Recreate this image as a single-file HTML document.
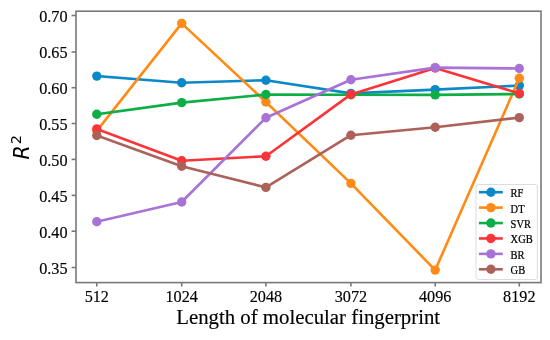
<!DOCTYPE html>
<html><head><meta charset="utf-8"><style>
html,body{margin:0;padding:0;background:#fff;}
svg{display:block;}
</style></head><body>
<svg width="550" height="340" viewBox="0 0 550 340">
<rect width="550" height="340" fill="#fff"/>
<polyline points="96.80,76.10 181.70,82.70 265.90,80.20 350.90,93.40 435.20,89.60 519.30,85.60" fill="none" stroke="#0a89c9" stroke-width="2.6" stroke-linejoin="round" stroke-linecap="square"/>
<circle cx="96.80" cy="76.10" r="4.7" fill="#0a89c9"/>
<circle cx="181.70" cy="82.70" r="4.7" fill="#0a89c9"/>
<circle cx="265.90" cy="80.20" r="4.7" fill="#0a89c9"/>
<circle cx="350.90" cy="93.40" r="4.7" fill="#0a89c9"/>
<circle cx="435.20" cy="89.60" r="4.7" fill="#0a89c9"/>
<circle cx="519.30" cy="85.60" r="4.7" fill="#0a89c9"/>
<polyline points="96.80,130.80 181.70,23.40 265.90,102.00 350.90,183.40 435.20,270.10 519.30,78.20" fill="none" stroke="#ff8a14" stroke-width="2.6" stroke-linejoin="round" stroke-linecap="square"/>
<circle cx="96.80" cy="130.80" r="4.7" fill="#ff8a14"/>
<circle cx="181.70" cy="23.40" r="4.7" fill="#ff8a14"/>
<circle cx="265.90" cy="102.00" r="4.7" fill="#ff8a14"/>
<circle cx="350.90" cy="183.40" r="4.7" fill="#ff8a14"/>
<circle cx="435.20" cy="270.10" r="4.7" fill="#ff8a14"/>
<circle cx="519.30" cy="78.20" r="4.7" fill="#ff8a14"/>
<polyline points="96.80,114.30 181.70,102.60 265.90,94.50 350.90,94.70 435.20,94.90 519.30,94.00" fill="none" stroke="#0dae45" stroke-width="2.6" stroke-linejoin="round" stroke-linecap="square"/>
<circle cx="96.80" cy="114.30" r="4.7" fill="#0dae45"/>
<circle cx="181.70" cy="102.60" r="4.7" fill="#0dae45"/>
<circle cx="265.90" cy="94.50" r="4.7" fill="#0dae45"/>
<circle cx="350.90" cy="94.70" r="4.7" fill="#0dae45"/>
<circle cx="435.20" cy="94.90" r="4.7" fill="#0dae45"/>
<circle cx="519.30" cy="94.00" r="4.7" fill="#0dae45"/>
<polyline points="96.80,128.90 181.70,160.70 265.90,156.30 350.90,94.40 435.20,68.00 519.30,93.40" fill="none" stroke="#fa3438" stroke-width="2.6" stroke-linejoin="round" stroke-linecap="square"/>
<circle cx="96.80" cy="128.90" r="4.7" fill="#fa3438"/>
<circle cx="181.70" cy="160.70" r="4.7" fill="#fa3438"/>
<circle cx="265.90" cy="156.30" r="4.7" fill="#fa3438"/>
<circle cx="350.90" cy="94.40" r="4.7" fill="#fa3438"/>
<circle cx="435.20" cy="68.00" r="4.7" fill="#fa3438"/>
<circle cx="519.30" cy="93.40" r="4.7" fill="#fa3438"/>
<polyline points="96.80,221.70 181.70,202.00 265.90,117.80 350.90,79.80 435.20,67.60 519.30,68.50" fill="none" stroke="#a872d6" stroke-width="2.6" stroke-linejoin="round" stroke-linecap="square"/>
<circle cx="96.80" cy="221.70" r="4.7" fill="#a872d6"/>
<circle cx="181.70" cy="202.00" r="4.7" fill="#a872d6"/>
<circle cx="265.90" cy="117.80" r="4.7" fill="#a872d6"/>
<circle cx="350.90" cy="79.80" r="4.7" fill="#a872d6"/>
<circle cx="435.20" cy="67.60" r="4.7" fill="#a872d6"/>
<circle cx="519.30" cy="68.50" r="4.7" fill="#a872d6"/>
<polyline points="96.80,135.50 181.70,166.30 265.90,187.40 350.90,135.20 435.20,127.20 519.30,117.60" fill="none" stroke="#ac6258" stroke-width="2.6" stroke-linejoin="round" stroke-linecap="square"/>
<circle cx="96.80" cy="135.50" r="4.7" fill="#ac6258"/>
<circle cx="181.70" cy="166.30" r="4.7" fill="#ac6258"/>
<circle cx="265.90" cy="187.40" r="4.7" fill="#ac6258"/>
<circle cx="350.90" cy="135.20" r="4.7" fill="#ac6258"/>
<circle cx="435.20" cy="127.20" r="4.7" fill="#ac6258"/>
<circle cx="519.30" cy="117.60" r="4.7" fill="#ac6258"/>
<rect x="76.0" y="11.2" width="465.0" height="271.40000000000003" fill="none" stroke="#787878" stroke-width="1.6"/>
<line x1="71.6" y1="15.50" x2="76.0" y2="15.50" stroke="#787878" stroke-width="1.6"/>
<text x="67.50" y="21.90" text-anchor="end" font-family='"Liberation Serif", "Times New Roman", serif' font-size="16.2" fill="#000" stroke="#000" stroke-width="0.15">0.70</text>
<line x1="71.6" y1="52.00" x2="76.0" y2="52.00" stroke="#787878" stroke-width="1.6"/>
<text x="67.50" y="58.40" text-anchor="end" font-family='"Liberation Serif", "Times New Roman", serif' font-size="16.2" fill="#000" stroke="#000" stroke-width="0.15">0.65</text>
<line x1="71.6" y1="87.70" x2="76.0" y2="87.70" stroke="#787878" stroke-width="1.6"/>
<text x="67.50" y="94.10" text-anchor="end" font-family='"Liberation Serif", "Times New Roman", serif' font-size="16.2" fill="#000" stroke="#000" stroke-width="0.15">0.60</text>
<line x1="71.6" y1="123.50" x2="76.0" y2="123.50" stroke="#787878" stroke-width="1.6"/>
<text x="67.50" y="129.90" text-anchor="end" font-family='"Liberation Serif", "Times New Roman", serif' font-size="16.2" fill="#000" stroke="#000" stroke-width="0.15">0.55</text>
<line x1="71.6" y1="159.40" x2="76.0" y2="159.40" stroke="#787878" stroke-width="1.6"/>
<text x="67.50" y="165.80" text-anchor="end" font-family='"Liberation Serif", "Times New Roman", serif' font-size="16.2" fill="#000" stroke="#000" stroke-width="0.15">0.50</text>
<line x1="71.6" y1="195.40" x2="76.0" y2="195.40" stroke="#787878" stroke-width="1.6"/>
<text x="67.50" y="201.80" text-anchor="end" font-family='"Liberation Serif", "Times New Roman", serif' font-size="16.2" fill="#000" stroke="#000" stroke-width="0.15">0.45</text>
<line x1="71.6" y1="231.20" x2="76.0" y2="231.20" stroke="#787878" stroke-width="1.6"/>
<text x="67.50" y="237.60" text-anchor="end" font-family='"Liberation Serif", "Times New Roman", serif' font-size="16.2" fill="#000" stroke="#000" stroke-width="0.15">0.40</text>
<line x1="71.6" y1="267.50" x2="76.0" y2="267.50" stroke="#787878" stroke-width="1.6"/>
<text x="67.50" y="273.90" text-anchor="end" font-family='"Liberation Serif", "Times New Roman", serif' font-size="16.2" fill="#000" stroke="#000" stroke-width="0.15">0.35</text>
<line x1="96.80" y1="282.6" x2="96.80" y2="286.6" stroke="#787878" stroke-width="1.6"/>
<text x="96.80" y="302" text-anchor="middle" font-family='"Liberation Serif", "Times New Roman", serif' font-size="16.2" fill="#000" stroke="#000" stroke-width="0.15">512</text>
<line x1="181.70" y1="282.6" x2="181.70" y2="286.6" stroke="#787878" stroke-width="1.6"/>
<text x="181.70" y="302" text-anchor="middle" font-family='"Liberation Serif", "Times New Roman", serif' font-size="16.2" fill="#000" stroke="#000" stroke-width="0.15">1024</text>
<line x1="265.90" y1="282.6" x2="265.90" y2="286.6" stroke="#787878" stroke-width="1.6"/>
<text x="265.90" y="302" text-anchor="middle" font-family='"Liberation Serif", "Times New Roman", serif' font-size="16.2" fill="#000" stroke="#000" stroke-width="0.15">2048</text>
<line x1="350.90" y1="282.6" x2="350.90" y2="286.6" stroke="#787878" stroke-width="1.6"/>
<text x="350.90" y="302" text-anchor="middle" font-family='"Liberation Serif", "Times New Roman", serif' font-size="16.2" fill="#000" stroke="#000" stroke-width="0.15">3072</text>
<line x1="435.20" y1="282.6" x2="435.20" y2="286.6" stroke="#787878" stroke-width="1.6"/>
<text x="435.20" y="302" text-anchor="middle" font-family='"Liberation Serif", "Times New Roman", serif' font-size="16.2" fill="#000" stroke="#000" stroke-width="0.15">4096</text>
<line x1="519.30" y1="282.6" x2="519.30" y2="286.6" stroke="#787878" stroke-width="1.6"/>
<text x="519.30" y="302" text-anchor="middle" font-family='"Liberation Serif", "Times New Roman", serif' font-size="16.2" fill="#000" stroke="#000" stroke-width="0.15">8192</text>
<text x="308.2" y="323.8" text-anchor="middle" font-family='"Liberation Serif", "Times New Roman", serif' font-size="20.8" fill="#000" stroke="#000" stroke-width="0.15">Length of molecular fingerprint</text>
<g transform="translate(28.9,159.4) rotate(-90)"><text x="0" y="0" font-family='"DejaVu Sans", sans-serif' font-style="italic" font-size="20.6" fill="#000">R<tspan font-style="normal" font-size="14.5" dy="-7.9" dx="0.8">2</tspan></text></g>
<rect x="476.0" y="184.5" width="61.299999999999955" height="95.0" rx="2.5" fill="#fff" fill-opacity="0.8" stroke="#dcdcdc" stroke-width="1"/>
<line x1="478.9" y1="192.20" x2="502.8" y2="192.20" stroke="#0a89c9" stroke-width="2.6"/>
<circle cx="490.9" cy="192.20" r="4.7" fill="#0a89c9"/>
<text transform="translate(510.6,197.20) scale(0.91,1)" font-family='"Liberation Serif", "Times New Roman", serif' font-size="11.5" fill="#000" stroke="#000" stroke-width="0.25">RF</text>
<line x1="478.9" y1="207.62" x2="502.8" y2="207.62" stroke="#ff8a14" stroke-width="2.6"/>
<circle cx="490.9" cy="207.62" r="4.7" fill="#ff8a14"/>
<text transform="translate(510.6,212.62) scale(0.91,1)" font-family='"Liberation Serif", "Times New Roman", serif' font-size="11.5" fill="#000" stroke="#000" stroke-width="0.25">DT</text>
<line x1="478.9" y1="223.04" x2="502.8" y2="223.04" stroke="#0dae45" stroke-width="2.6"/>
<circle cx="490.9" cy="223.04" r="4.7" fill="#0dae45"/>
<text transform="translate(510.6,228.04) scale(0.91,1)" font-family='"Liberation Serif", "Times New Roman", serif' font-size="11.5" fill="#000" stroke="#000" stroke-width="0.25">SVR</text>
<line x1="478.9" y1="238.46" x2="502.8" y2="238.46" stroke="#fa3438" stroke-width="2.6"/>
<circle cx="490.9" cy="238.46" r="4.7" fill="#fa3438"/>
<text transform="translate(510.6,243.46) scale(0.91,1)" font-family='"Liberation Serif", "Times New Roman", serif' font-size="11.5" fill="#000" stroke="#000" stroke-width="0.25">XGB</text>
<line x1="478.9" y1="253.88" x2="502.8" y2="253.88" stroke="#a872d6" stroke-width="2.6"/>
<circle cx="490.9" cy="253.88" r="4.7" fill="#a872d6"/>
<text transform="translate(510.6,258.88) scale(0.91,1)" font-family='"Liberation Serif", "Times New Roman", serif' font-size="11.5" fill="#000" stroke="#000" stroke-width="0.25">BR</text>
<line x1="478.9" y1="269.30" x2="502.8" y2="269.30" stroke="#ac6258" stroke-width="2.6"/>
<circle cx="490.9" cy="269.30" r="4.7" fill="#ac6258"/>
<text transform="translate(510.6,274.30) scale(0.91,1)" font-family='"Liberation Serif", "Times New Roman", serif' font-size="11.5" fill="#000" stroke="#000" stroke-width="0.25">GB</text>
</svg>
</body></html>
